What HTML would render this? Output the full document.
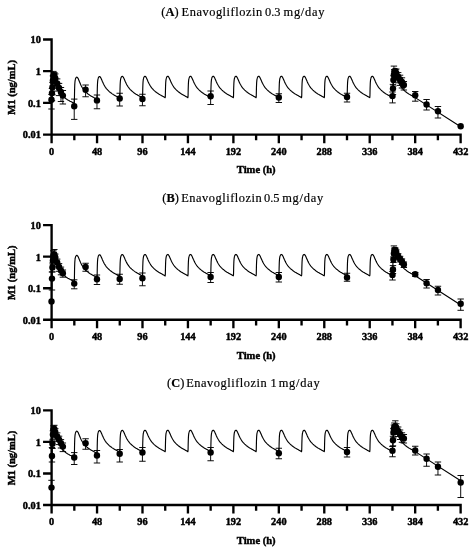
<!DOCTYPE html>
<html lang="en"><head><meta charset="utf-8"><title>Enavogliflozin M1 concentration-time profiles</title>
<style>html,body{margin:0;padding:0;background:#fff}body{width:476px;height:550px;overflow:hidden}svg{display:block}
.t{font-family:"Liberation Serif","DejaVu Serif",serif;font-size:12.4px;letter-spacing:0.55px;fill:#000;stroke:#000;stroke-width:0.18px}
.k{font-family:"Liberation Serif","DejaVu Serif",serif;font-weight:bold;font-size:10.3px;fill:#000;stroke:#000;stroke-width:0.45px}
.l{font-family:"Liberation Serif","DejaVu Serif",serif;font-weight:bold;font-size:10.55px;fill:#000;stroke:#000;stroke-width:0.45px}
.ax{stroke:#000;stroke-width:2.35;fill:none;stroke-linecap:butt}
.cv{stroke:#000;stroke-width:1.15;fill:none;stroke-linejoin:round}
.eb{stroke:#000;stroke-width:0.95;fill:none}
.pt{fill:#000}
</style></head><body>
<svg width="476" height="550" viewBox="0 0 476 550">
<rect width="476" height="550" fill="#fff"/>
<g id="chartA">
<text class="t" y="16"><tspan x="161.3" letter-spacing="0.03">(<tspan font-weight="bold">A</tspan>) </tspan><tspan x="181.6" letter-spacing="0.53">Enavogliflozin </tspan><tspan x="265" letter-spacing="-0.07">0.3 </tspan><tspan x="283.5" letter-spacing="0.77">mg/day</tspan></text>
<path class="ax" d="M51.6 38.3V143.17M43.05 134.57H461.79M43.05 39.47H51.6M43.05 71.17H51.6M43.05 102.87H51.6M74.32 134.57V140.27M97.05 134.57V143.17M119.77 134.57V140.27M142.49 134.57V143.17M165.22 134.57V140.27M187.94 134.57V143.17M210.66 134.57V140.27M233.39 134.57V143.17M256.11 134.57V140.27M278.83 134.57V143.17M301.56 134.57V140.27M324.28 134.57V143.17M347 134.57V140.27M369.72 134.57V143.17M392.45 134.57V140.27M415.17 134.57V143.17M437.89 134.57V140.27M460.62 134.57V143.17"/>
<text class="k" text-anchor="end" x="40.8" y="43.37">10</text>
<text class="k" text-anchor="end" x="40.8" y="75.07">1</text>
<text class="k" text-anchor="end" x="40.8" y="106.77">0.1</text>
<text class="k" text-anchor="end" x="40.8" y="138.47">0.01</text>
<text class="k" text-anchor="middle" x="51.6" y="154.57">0</text>
<text class="k" text-anchor="middle" x="97.05" y="154.57">48</text>
<text class="k" text-anchor="middle" x="142.49" y="154.57">96</text>
<text class="k" text-anchor="middle" x="187.94" y="154.57">144</text>
<text class="k" text-anchor="middle" x="233.39" y="154.57">192</text>
<text class="k" text-anchor="middle" x="278.83" y="154.57">240</text>
<text class="k" text-anchor="middle" x="324.28" y="154.57">288</text>
<text class="k" text-anchor="middle" x="369.72" y="154.57">336</text>
<text class="k" text-anchor="middle" x="415.17" y="154.57">384</text>
<text class="k" text-anchor="middle" x="460.62" y="154.57">432</text>
<text class="l" text-anchor="middle" transform="translate(256.21 173.07) scale(1 1.07)">Time (h)</text>
<text class="l" text-anchor="middle" transform="translate(15 87.32) rotate(-90) scale(1 1.07)">M1 (ng/mL)</text>
<path class="cv" d="M51.78 102.61L51.83 98.18L51.88 95.31L51.93 92.84L51.97 90.76L52.02 89.1L52.07 87.88L52.12 86.95L52.16 86.12L52.21 85.4L52.26 84.76L52.31 84.2L52.35 83.72L52.4 83.3L52.45 82.95L52.49 82.63L52.54 82.34L52.59 82.06L52.64 81.81L52.68 81.57L52.73 81.35L52.78 81.15L52.83 80.97L52.87 80.8L52.92 80.65L53.16 80.07L53.39 79.64L53.63 79.34L53.87 79.16L54.1 79.05L54.34 79.08L54.58 79.28L54.82 79.53L55.05 79.9L55.29 80.37L55.53 80.87L55.76 81.44L56 82.07L56.24 82.71L56.47 83.37L56.71 84.06L56.95 84.74L57.18 85.38L57.89 87.24L58.6 88.96L59.31 90.46L60.02 91.81L60.74 93.01L61.45 94.04L62.16 94.94L62.87 95.76L63.58 96.51L64.29 97.2L65 97.84L65.71 98.44L66.42 99L67.13 99.51L67.84 99.96L68.55 100.37L69.26 100.76L69.97 101.14L70.68 101.5L71.39 101.86L72.1 102.24L72.81 102.62L73.52 103.01L74.23 103.4L74.23 102.73L74.28 102.39L74.33 102.05L74.37 101.53L74.42 99.8L74.47 96.79L74.52 93.6L74.56 91.14L74.61 89.37L74.66 87.73L74.71 86.27L74.75 85.07L74.8 84.15L74.85 83.44L74.9 82.81L74.94 82.24L74.99 81.74L75.04 81.3L75.09 80.91L75.13 80.57L75.18 80.29L75.23 80.03L75.27 79.79L75.32 79.57L75.37 79.36L75.42 79.17L75.46 78.99L75.51 78.83L75.56 78.68L75.61 78.54L75.65 78.42L75.89 77.94L76.13 77.59L76.36 77.36L76.6 77.22L76.84 77.14L77.07 77.19L77.31 77.38L77.55 77.62L77.78 77.97L78.02 78.39L78.26 78.85L78.5 79.36L78.73 79.92L78.97 80.49L79.21 81.07L79.44 81.67L79.68 82.26L79.92 82.83L80.63 84.44L81.34 85.91L82.05 87.2L82.76 88.35L83.47 89.38L84.18 90.28L84.89 91.07L85.6 91.8L86.31 92.48L87.02 93.11L87.73 93.7L88.44 94.26L89.15 94.79L89.86 95.29L90.57 95.74L91.28 96.16L91.99 96.57L92.7 96.97L93.41 97.35L94.12 97.74L94.83 98.14L95.54 98.54L96.26 98.95L96.97 99.35L96.97 98.85L97.01 98.6L97.06 98.35L97.11 97.96L97.16 96.62L97.2 94.18L97.25 91.5L97.3 89.37L97.34 87.8L97.39 86.33L97.44 85.02L97.49 83.91L97.53 83.07L97.58 82.42L97.63 81.83L97.68 81.31L97.72 80.84L97.77 80.42L97.82 80.06L97.87 79.75L97.91 79.48L97.96 79.24L98.01 79.02L98.05 78.81L98.1 78.61L98.15 78.43L98.2 78.26L98.24 78.11L98.29 77.97L98.34 77.84L98.39 77.72L98.62 77.28L98.86 76.95L99.1 76.74L99.33 76.62L99.57 76.55L99.81 76.6L100.04 76.79L100.28 77.02L100.52 77.36L100.75 77.77L100.99 78.21L101.23 78.71L101.46 79.25L101.7 79.8L101.94 80.36L102.18 80.94L102.41 81.51L102.65 82.05L103.36 83.59L104.07 85.01L104.78 86.23L105.49 87.34L106.2 88.33L106.91 89.19L107.62 89.96L108.33 90.66L109.04 91.33L109.75 91.94L110.46 92.52L111.17 93.07L111.88 93.6L112.59 94.09L113.3 94.55L114.02 94.97L114.73 95.38L115.44 95.78L116.15 96.17L116.86 96.57L117.57 96.97L118.28 97.38L118.99 97.79L119.7 98.2L119.7 97.74L119.75 97.51L119.79 97.28L119.84 96.92L119.89 95.67L119.94 93.39L119.98 90.85L120.03 88.81L120.08 87.3L120.12 85.88L120.17 84.61L120.22 83.54L120.27 82.72L120.31 82.08L120.36 81.51L120.41 81L120.46 80.54L120.5 80.14L120.55 79.78L120.6 79.48L120.65 79.21L120.69 78.98L120.74 78.76L120.79 78.56L120.84 78.36L120.88 78.19L120.93 78.02L120.98 77.87L121.02 77.73L121.07 77.61L121.12 77.49L121.36 77.06L121.59 76.74L121.83 76.53L122.07 76.41L122.3 76.35L122.54 76.4L122.78 76.59L123.01 76.82L123.25 77.16L123.49 77.57L123.72 78L123.96 78.49L124.2 79.03L124.43 79.57L124.67 80.12L124.91 80.69L125.14 81.26L125.38 81.79L126.09 83.31L126.8 84.71L127.51 85.92L128.22 87.01L128.93 87.98L129.64 88.84L130.35 89.6L131.06 90.29L131.78 90.95L132.49 91.56L133.2 92.14L133.91 92.69L134.62 93.21L135.33 93.7L136.04 94.16L136.75 94.58L137.46 95L138.17 95.4L138.88 95.79L139.59 96.19L140.3 96.59L141.01 97L141.72 97.41L142.43 97.82L142.43 97.37L142.48 97.15L142.53 96.92L142.57 96.58L142.62 95.36L142.67 93.13L142.72 90.63L142.76 88.62L142.81 87.13L142.86 85.73L142.9 84.47L142.95 83.41L143 82.6L143.05 81.97L143.09 81.4L143.14 80.89L143.19 80.44L143.24 80.04L143.28 79.69L143.33 79.38L143.38 79.12L143.43 78.89L143.47 78.67L143.52 78.47L143.57 78.28L143.62 78.1L143.66 77.94L143.71 77.79L143.76 77.65L143.8 77.53L143.85 77.42L144.09 76.99L144.33 76.67L144.56 76.46L144.8 76.34L145.04 76.28L145.27 76.33L145.51 76.52L145.75 76.75L145.98 77.09L146.22 77.5L146.46 77.93L146.69 78.42L146.93 78.95L147.17 79.49L147.4 80.04L147.64 80.61L147.88 81.17L148.11 81.7L148.82 83.22L149.54 84.6L150.25 85.81L150.96 86.9L151.67 87.87L152.38 88.72L153.09 89.47L153.8 90.17L154.51 90.82L155.22 91.43L155.93 92.01L156.64 92.56L157.35 93.08L158.06 93.57L158.77 94.03L159.48 94.45L160.19 94.87L160.9 95.27L161.61 95.66L162.32 96.06L163.03 96.46L163.74 96.87L164.45 97.28L165.16 97.69L165.16 97.25L165.21 97.03L165.26 96.81L165.31 96.46L165.35 95.25L165.4 93.04L165.45 90.56L165.5 88.56L165.54 87.08L165.59 85.68L165.64 84.43L165.68 83.37L165.73 82.56L165.78 81.93L165.83 81.37L165.87 80.86L165.92 80.4L165.97 80L166.02 79.65L166.06 79.35L166.11 79.09L166.16 78.86L166.21 78.64L166.25 78.44L166.3 78.25L166.35 78.08L166.4 77.91L166.44 77.76L166.49 77.63L166.54 77.5L166.58 77.39L166.82 76.96L167.06 76.64L167.3 76.44L167.53 76.32L167.77 76.25L168.01 76.31L168.24 76.5L168.48 76.73L168.72 77.06L168.95 77.47L169.19 77.91L169.43 78.39L169.66 78.93L169.9 79.47L170.14 80.02L170.37 80.58L170.61 81.14L170.85 81.67L171.56 83.19L172.27 84.57L172.98 85.77L173.69 86.86L174.4 87.83L175.11 88.68L175.82 89.43L176.53 90.13L177.24 90.78L177.95 91.39L178.66 91.96L179.37 92.51L180.08 93.04L180.79 93.53L181.5 93.98L182.21 94.41L182.92 94.82L183.63 95.22L184.34 95.62L185.06 96.01L185.77 96.42L186.48 96.83L187.19 97.24L187.9 97.65L187.9 97.21L187.94 96.99L187.99 96.77L188.04 96.42L188.09 95.22L188.13 93.01L188.18 90.53L188.23 88.54L188.28 87.06L188.32 85.66L188.37 84.41L188.42 83.35L188.47 82.55L188.51 81.92L188.56 81.35L188.61 80.84L188.65 80.39L188.7 79.99L188.75 79.64L188.8 79.34L188.84 79.08L188.89 78.85L188.94 78.63L188.99 78.43L189.03 78.24L189.08 78.07L189.13 77.9L189.18 77.75L189.22 77.62L189.27 77.49L189.32 77.38L189.55 76.95L189.79 76.64L190.03 76.43L190.26 76.31L190.5 76.25L190.74 76.3L190.98 76.49L191.21 76.72L191.45 77.05L191.69 77.46L191.92 77.9L192.16 78.39L192.4 78.92L192.63 79.46L192.87 80.01L193.11 80.57L193.34 81.13L193.58 81.66L194.29 83.17L195 84.56L195.71 85.76L196.42 86.85L197.13 87.81L197.84 88.66L198.55 89.42L199.26 90.11L199.97 90.77L200.68 91.37L201.39 91.95L202.1 92.5L202.82 93.02L203.53 93.51L204.24 93.97L204.95 94.39L205.66 94.81L206.37 95.21L207.08 95.6L207.79 96L208.5 96.4L209.21 96.81L209.92 97.22L210.63 97.64L210.63 97.2L210.68 96.97L210.72 96.75L210.77 96.41L210.82 95.21L210.87 93L210.91 90.52L210.96 88.53L211.01 87.05L211.06 85.66L211.1 84.4L211.15 83.35L211.2 82.54L211.25 81.91L211.29 81.35L211.34 80.84L211.39 80.39L211.43 79.99L211.48 79.64L211.53 79.34L211.58 79.08L211.62 78.85L211.67 78.63L211.72 78.43L211.77 78.24L211.81 78.06L211.86 77.9L211.91 77.75L211.96 77.61L212 77.49L212.05 77.38L212.29 76.95L212.52 76.63L212.76 76.43L213 76.31L213.23 76.24L213.47 76.3L213.71 76.49L213.94 76.72L214.18 77.05L214.42 77.46L214.66 77.89L214.89 78.38L215.13 78.92L215.37 79.45L215.6 80L215.84 80.57L216.08 81.13L216.31 81.66L217.02 83.17L217.73 84.55L218.44 85.76L219.15 86.84L219.86 87.81L220.58 88.66L221.29 89.41L222 90.11L222.71 90.76L223.42 91.37L224.13 91.94L224.84 92.49L225.55 93.01L226.26 93.5L226.97 93.96L227.68 94.39L228.39 94.8L229.1 95.2L229.81 95.6L230.52 95.99L231.23 96.4L231.94 96.81L232.65 97.22L233.36 97.63L233.36 97.19L233.41 96.97L233.46 96.75L233.5 96.4L233.55 95.2L233.6 92.99L233.65 90.52L233.69 88.53L233.74 87.05L233.79 85.65L233.84 84.4L233.88 83.35L233.93 82.54L233.98 81.91L234.03 81.35L234.07 80.84L234.12 80.39L234.17 79.99L234.21 79.64L234.26 79.33L234.31 79.08L234.36 78.84L234.4 78.63L234.45 78.43L234.5 78.24L234.55 78.06L234.59 77.9L234.64 77.75L234.69 77.61L234.74 77.49L234.78 77.38L235.02 76.95L235.26 76.63L235.49 76.42L235.73 76.31L235.97 76.24L236.2 76.3L236.44 76.49L236.68 76.72L236.91 77.05L237.15 77.46L237.39 77.89L237.62 78.38L237.86 78.91L238.1 79.45L238.34 80L238.57 80.57L238.81 81.13L239.05 81.66L239.76 83.17L240.47 84.55L241.18 85.75L241.89 86.84L242.6 87.81L243.31 88.66L244.02 89.41L244.73 90.11L245.44 90.76L246.15 91.37L246.86 91.94L247.57 92.49L248.28 93.01L248.99 93.5L249.7 93.96L250.41 94.38L251.12 94.8L251.83 95.2L252.54 95.6L253.25 95.99L253.96 96.4L254.67 96.81L255.38 97.22L256.1 97.63L256.1 97.19L256.14 96.97L256.19 96.75L256.24 96.4L256.28 95.2L256.33 92.99L256.38 90.52L256.43 88.53L256.47 87.05L256.52 85.65L256.57 84.4L256.62 83.34L256.66 82.54L256.71 81.91L256.76 81.35L256.81 80.84L256.85 80.39L256.9 79.99L256.95 79.64L257 79.33L257.04 79.08L257.09 78.84L257.14 78.63L257.18 78.42L257.23 78.24L257.28 78.06L257.33 77.9L257.37 77.75L257.42 77.61L257.47 77.49L257.52 77.38L257.75 76.95L257.99 76.63L258.23 76.42L258.46 76.31L258.7 76.24L258.94 76.3L259.17 76.49L259.41 76.72L259.65 77.05L259.88 77.46L260.12 77.89L260.36 78.38L260.59 78.91L260.83 79.45L261.07 80L261.3 80.57L261.54 81.13L261.78 81.66L262.49 83.17L263.2 84.55L263.91 85.75L264.62 86.84L265.33 87.81L266.04 88.66L266.75 89.41L267.46 90.11L268.17 90.76L268.88 91.37L269.59 91.94L270.3 92.49L271.01 93.01L271.72 93.5L272.43 93.96L273.14 94.38L273.86 94.8L274.57 95.2L275.28 95.59L275.99 95.99L276.7 96.4L277.41 96.8L278.12 97.22L278.83 97.63L278.83 97.19L278.88 96.97L278.92 96.74L278.97 96.4L279.02 95.2L279.06 92.99L279.11 90.52L279.16 88.53L279.21 87.05L279.25 85.65L279.3 84.4L279.35 83.34L279.4 82.54L279.44 81.91L279.49 81.35L279.54 80.84L279.59 80.39L279.63 79.99L279.68 79.64L279.73 79.33L279.78 79.08L279.82 78.84L279.87 78.63L279.92 78.42L279.96 78.24L280.01 78.06L280.06 77.9L280.11 77.75L280.15 77.61L280.2 77.49L280.25 77.38L280.49 76.95L280.72 76.63L280.96 76.42L281.2 76.31L281.43 76.24L281.67 76.3L281.91 76.49L282.14 76.72L282.38 77.05L282.62 77.46L282.85 77.89L283.09 78.38L283.33 78.91L283.56 79.45L283.8 80L284.04 80.57L284.27 81.13L284.51 81.66L285.22 83.17L285.93 84.55L286.64 85.75L287.35 86.84L288.06 87.81L288.77 88.66L289.48 89.41L290.19 90.1L290.9 90.76L291.62 91.37L292.33 91.94L293.04 92.49L293.75 93.01L294.46 93.5L295.17 93.96L295.88 94.38L296.59 94.8L297.3 95.2L298.01 95.59L298.72 95.99L299.43 96.4L300.14 96.8L300.85 97.22L301.56 97.63L301.56 97.19L301.61 96.97L301.66 96.74L301.7 96.4L301.75 95.2L301.8 92.99L301.84 90.52L301.89 88.53L301.94 87.05L301.99 85.65L302.03 84.4L302.08 83.34L302.13 82.54L302.18 81.91L302.22 81.35L302.27 80.84L302.32 80.39L302.37 79.99L302.41 79.64L302.46 79.33L302.51 79.08L302.56 78.84L302.6 78.63L302.65 78.42L302.7 78.24L302.74 78.06L302.79 77.9L302.84 77.75L302.89 77.61L302.93 77.49L302.98 77.38L303.22 76.95L303.46 76.63L303.69 76.42L303.93 76.31L304.17 76.24L304.4 76.3L304.64 76.49L304.88 76.72L305.11 77.05L305.35 77.46L305.59 77.89L305.82 78.38L306.06 78.91L306.3 79.45L306.53 80L306.77 80.57L307.01 81.13L307.24 81.66L307.95 83.17L308.66 84.55L309.38 85.75L310.09 86.84L310.8 87.81L311.51 88.66L312.22 89.41L312.93 90.1L313.64 90.76L314.35 91.37L315.06 91.94L315.77 92.49L316.48 93.01L317.19 93.5L317.9 93.96L318.61 94.38L319.32 94.8L320.03 95.2L320.74 95.59L321.45 95.99L322.16 96.4L322.87 96.8L323.58 97.21L324.29 97.63L324.29 97.19L324.34 96.97L324.39 96.74L324.44 96.4L324.48 95.2L324.53 92.99L324.58 90.52L324.63 88.53L324.67 87.05L324.72 85.65L324.77 84.4L324.81 83.34L324.86 82.54L324.91 81.91L324.96 81.35L325 80.84L325.05 80.39L325.1 79.99L325.15 79.64L325.19 79.33L325.24 79.08L325.29 78.84L325.34 78.63L325.38 78.42L325.43 78.24L325.48 78.06L325.52 77.9L325.57 77.75L325.62 77.61L325.67 77.49L325.71 77.38L325.95 76.95L326.19 76.63L326.42 76.42L326.66 76.31L326.9 76.24L327.14 76.3L327.37 76.49L327.61 76.72L327.85 77.05L328.08 77.46L328.32 77.89L328.56 78.38L328.79 78.91L329.03 79.45L329.27 80L329.5 80.57L329.74 81.13L329.98 81.66L330.69 83.17L331.4 84.55L332.11 85.75L332.82 86.84L333.53 87.81L334.24 88.66L334.95 89.41L335.66 90.1L336.37 90.76L337.08 91.37L337.79 91.94L338.5 92.49L339.21 93.01L339.92 93.5L340.63 93.96L341.34 94.38L342.05 94.8L342.76 95.2L343.47 95.59L344.18 95.99L344.9 96.4L345.61 96.8L346.32 97.21L347.03 97.63L347.03 97.19L347.07 96.97L347.12 96.74L347.17 96.4L347.22 95.2L347.26 92.99L347.31 90.52L347.36 88.53L347.41 87.05L347.45 85.65L347.5 84.4L347.55 83.34L347.59 82.54L347.64 81.91L347.69 81.35L347.74 80.84L347.78 80.39L347.83 79.99L347.88 79.64L347.93 79.33L347.97 79.08L348.02 78.84L348.07 78.63L348.12 78.42L348.16 78.24L348.21 78.06L348.26 77.9L348.31 77.75L348.35 77.61L348.4 77.49L348.45 77.38L348.68 76.95L348.92 76.63L349.16 76.42L349.39 76.31L349.63 76.24L349.87 76.3L350.1 76.49L350.34 76.72L350.58 77.05L350.82 77.46L351.05 77.89L351.29 78.38L351.53 78.91L351.76 79.45L352 80L352.24 80.57L352.47 81.13L352.71 81.66L353.42 83.17L354.13 84.55L354.84 85.75L355.55 86.84L356.26 87.81L356.97 88.66L357.68 89.41L358.39 90.1L359.1 90.76L359.81 91.37L360.52 91.94L361.23 92.49L361.94 93.01L362.66 93.5L363.37 93.96L364.08 94.38L364.79 94.8L365.5 95.2L366.21 95.59L366.92 95.99L367.63 96.4L368.34 96.8L369.05 97.21L369.76 97.63L369.76 97.19L369.81 96.97L369.85 96.74L369.9 96.4L369.95 95.2L370 92.99L370.04 90.52L370.09 88.53L370.14 87.05L370.19 85.65L370.23 84.4L370.28 83.34L370.33 82.54L370.37 81.91L370.42 81.35L370.47 80.84L370.52 80.39L370.56 79.99L370.61 79.64L370.66 79.33L370.71 79.08L370.75 78.84L370.8 78.63L370.85 78.42L370.9 78.24L370.94 78.06L370.99 77.9L371.04 77.75L371.09 77.61L371.13 77.49L371.18 77.38L371.42 76.95L371.65 76.63L371.89 76.42L372.13 76.31L372.36 76.24L372.6 76.3L372.84 76.49L373.07 76.72L373.31 77.05L373.55 77.46L373.78 77.89L374.02 78.38L374.26 78.91L374.5 79.45L374.73 80L374.97 80.57L375.21 81.13L375.44 81.66L376.15 83.17L376.86 84.55L377.57 85.75L378.28 86.84L378.99 87.81L379.7 88.66L380.42 89.41L381.13 90.1L381.84 90.76L382.55 91.37L383.26 91.94L383.97 92.49L384.68 93.01L385.39 93.5L386.1 93.96L386.81 94.38L387.52 94.8L388.23 95.2L388.94 95.59L389.65 95.99L390.36 96.4L391.07 96.8L391.78 97.21L392.49 97.63L392.49 97.19L392.54 96.97L392.59 96.74L392.63 96.4L392.68 95.2L392.73 92.99L392.78 90.52L392.82 88.53L392.87 87.05L392.92 85.65L392.97 84.4L393.01 83.34L393.06 82.54L393.11 81.91L393.16 81.35L393.2 80.84L393.25 80.39L393.3 79.99L393.34 79.64L393.39 79.33L393.44 79.08L393.49 78.84L393.53 78.63L393.58 78.42L393.63 78.24L393.68 78.06L393.72 77.9L393.77 77.75L393.82 77.61L393.87 77.49L393.91 77.38L394.15 76.95L394.39 76.63L394.62 76.42L394.86 76.31L395.1 76.24L395.33 76.3L395.57 76.49L395.81 76.72L396.04 77.05L396.28 77.46L396.52 77.89L396.75 78.38L396.99 78.91L397.23 79.45L397.46 80L397.7 80.57L397.94 81.13L398.18 81.66L398.89 83.17L399.6 84.55L400.31 85.75L401.02 86.84L401.73 87.81L402.44 88.66L403.15 89.41L403.86 90.1L404.57 90.76L405.28 91.37L405.99 91.94L406.7 92.49L407.41 93.01L408.12 93.5L408.83 93.96L409.54 94.38L410.25 94.8L410.96 95.2L411.67 95.59L412.38 95.99L413.09 96.4L413.8 96.8L414.51 97.21L415.22 97.63L460.69 126.81"/>
<path class="eb" d="M51.5 94.5V109M48.3 94.5H54.7M48.3 109H54.7M51.97 88.5V100.7M48.77 88.5H55.17M48.77 100.7H55.17M52.45 82.6V94.8M49.25 82.6H55.65M49.25 94.8H55.65M52.92 75.9V88.1M49.72 75.9H56.12M49.72 88.1H56.12M53.39 71.4V83.6M50.19 71.4H56.59M50.19 83.6H56.59M54.34 72.6V80M51.14 72.6H57.54M51.14 80H57.54M55.29 73.9V86.1M52.09 73.9H58.49M52.09 86.1H58.49M57.18 78.9V91.1M53.98 78.9H60.38M53.98 91.1H60.38M59.08 83.4V95.6M55.88 83.4H62.28M55.88 95.6H62.28M60.97 87.5V101.5M57.77 87.5H64.17M57.77 101.5H64.17M62.87 90.5V104M59.67 90.5H66.07M59.67 104H66.07M74.23 99.1V119.4M71.03 99.1H77.43M71.03 119.4H77.43M85.6 85V96.75M82.4 85H88.8M82.4 96.75H88.8M96.97 95V108.75M93.77 95H100.17M93.77 108.75H100.17M119.7 93.25V106M116.5 93.25H122.9M116.5 106H122.9M142.43 94.25V105.75M139.23 94.25H145.63M139.23 105.75H145.63M210.63 91V104.5M207.43 91H213.83M207.43 104.5H213.83M278.83 93.75V102.5M275.63 93.75H282.03M275.63 102.5H282.03M347.03 93.25V102M343.83 93.25H350.23M343.83 102H350.23M392.49 92V102.9M389.29 92H395.69M389.29 102.9H395.69M392.97 84.4V94.6M389.77 84.4H396.17M389.77 94.6H396.17M393.44 75.8V86M390.24 75.8H396.64M390.24 86H396.64M393.91 66.1V80M390.71 66.1H397.11M390.71 80H397.11M394.39 69.5V77M391.19 69.5H397.59M391.19 77H397.59M395.33 69.5V77M392.13 69.5H398.53M392.13 77H398.53M396.28 69V79.2M393.08 69H399.48M393.08 79.2H399.48M398.18 72.6V82.8M394.98 72.6H401.38M394.98 82.8H401.38M400.07 75.2V85.4M396.87 75.2H403.27M396.87 85.4H403.27M401.96 77.8V88M398.76 77.8H405.16M398.76 88H405.16M403.86 81.5V90M400.66 81.5H407.06M400.66 90H407.06M415.22 91.5V101.2M412.02 91.5H418.42M412.02 101.2H418.42M426.59 99.5V110M423.39 99.5H429.79M423.39 110H429.79M437.96 106.5V118M434.76 106.5H441.16M434.76 118H441.16"/>
<circle class="pt" cx="51.5" cy="99.8" r="3.2"/>
<circle class="pt" cx="51.97" cy="93.1" r="3.2"/>
<circle class="pt" cx="52.45" cy="87.2" r="3.2"/>
<circle class="pt" cx="52.92" cy="80.5" r="3.2"/>
<circle class="pt" cx="53.39" cy="76" r="3.2"/>
<circle class="pt" cx="54.34" cy="75.5" r="3.2"/>
<circle class="pt" cx="55.29" cy="78.5" r="3.2"/>
<circle class="pt" cx="57.18" cy="83.5" r="3.2"/>
<circle class="pt" cx="59.08" cy="88" r="3.2"/>
<circle class="pt" cx="60.97" cy="92" r="3.2"/>
<circle class="pt" cx="62.87" cy="95.6" r="3.2"/>
<circle class="pt" cx="74.23" cy="106.3" r="3.2"/>
<circle class="pt" cx="85.6" cy="89.75" r="3.2"/>
<circle class="pt" cx="96.97" cy="100.4" r="3.2"/>
<circle class="pt" cx="119.7" cy="98.5" r="3.2"/>
<circle class="pt" cx="142.43" cy="99" r="3.2"/>
<circle class="pt" cx="210.63" cy="96.25" r="3.2"/>
<circle class="pt" cx="278.83" cy="97.5" r="3.2"/>
<circle class="pt" cx="347.03" cy="97" r="3.2"/>
<circle class="pt" cx="392.49" cy="96.1" r="3.2"/>
<circle class="pt" cx="392.97" cy="88.6" r="3.2"/>
<circle class="pt" cx="393.44" cy="80" r="3.2"/>
<circle class="pt" cx="393.91" cy="74.8" r="3.2"/>
<circle class="pt" cx="394.39" cy="71.3" r="3.2"/>
<circle class="pt" cx="395.33" cy="71" r="3.2"/>
<circle class="pt" cx="396.28" cy="73.2" r="3.2"/>
<circle class="pt" cx="398.18" cy="76.8" r="3.2"/>
<circle class="pt" cx="400.07" cy="79.4" r="3.2"/>
<circle class="pt" cx="401.96" cy="82" r="3.2"/>
<circle class="pt" cx="403.86" cy="85" r="3.2"/>
<circle class="pt" cx="415.22" cy="95.3" r="3.2"/>
<circle class="pt" cx="426.59" cy="104.5" r="3.2"/>
<circle class="pt" cx="437.96" cy="111.25" r="3.2"/>
<circle class="pt" cx="460.69" cy="126.25" r="3.2"/>
</g>
<g id="chartB">
<text class="t" y="201.55"><tspan x="162.3" letter-spacing="0.03">(<tspan font-weight="bold">B</tspan>) </tspan><tspan x="181.2" letter-spacing="0.53">Enavogliflozin </tspan><tspan x="264" letter-spacing="-0.07">0.5 </tspan><tspan x="282.2" letter-spacing="0.77">mg/day</tspan></text>
<path class="ax" d="M51.6 223.89V328.37M43.05 319.77H461.79M43.05 225.07H51.6M43.05 256.64H51.6M43.05 288.2H51.6M74.32 319.77V325.47M97.05 319.77V328.37M119.77 319.77V325.47M142.49 319.77V328.37M165.22 319.77V325.47M187.94 319.77V328.37M210.66 319.77V325.47M233.39 319.77V328.37M256.11 319.77V325.47M278.83 319.77V328.37M301.56 319.77V325.47M324.28 319.77V328.37M347 319.77V325.47M369.72 319.77V328.37M392.45 319.77V325.47M415.17 319.77V328.37M437.89 319.77V325.47M460.62 319.77V328.37"/>
<text class="k" text-anchor="end" x="40.8" y="228.97">10</text>
<text class="k" text-anchor="end" x="40.8" y="260.54">1</text>
<text class="k" text-anchor="end" x="40.8" y="292.1">0.1</text>
<text class="k" text-anchor="end" x="40.8" y="323.67">0.01</text>
<text class="k" text-anchor="middle" x="51.6" y="339.77">0</text>
<text class="k" text-anchor="middle" x="97.05" y="339.77">48</text>
<text class="k" text-anchor="middle" x="142.49" y="339.77">96</text>
<text class="k" text-anchor="middle" x="187.94" y="339.77">144</text>
<text class="k" text-anchor="middle" x="233.39" y="339.77">192</text>
<text class="k" text-anchor="middle" x="278.83" y="339.77">240</text>
<text class="k" text-anchor="middle" x="324.28" y="339.77">288</text>
<text class="k" text-anchor="middle" x="369.72" y="339.77">336</text>
<text class="k" text-anchor="middle" x="415.17" y="339.77">384</text>
<text class="k" text-anchor="middle" x="460.62" y="339.77">432</text>
<text class="l" text-anchor="middle" transform="translate(256.21 359.07) scale(1 1.07)">Time (h)</text>
<text class="l" text-anchor="middle" transform="translate(15 272.72) rotate(-90) scale(1 1.07)">M1 (ng/mL)</text>
<path class="cv" d="M51.78 280.81L51.83 276.38L51.88 273.51L51.93 271.04L51.97 268.96L52.02 267.3L52.07 266.08L52.12 265.15L52.16 264.32L52.21 263.6L52.26 262.96L52.31 262.4L52.35 261.92L52.4 261.5L52.45 261.15L52.49 260.83L52.54 260.54L52.59 260.26L52.64 260.01L52.68 259.77L52.73 259.55L52.78 259.35L52.83 259.17L52.87 259L52.92 258.85L53.16 258.27L53.39 257.84L53.63 257.54L53.87 257.36L54.1 257.25L54.34 257.28L54.58 257.48L54.82 257.73L55.05 258.1L55.29 258.57L55.53 259.07L55.76 259.64L56 260.27L56.24 260.91L56.47 261.57L56.71 262.26L56.95 262.94L57.18 263.58L57.89 265.44L58.6 267.16L59.31 268.66L60.02 270.01L60.74 271.21L61.45 272.24L62.16 273.14L62.87 273.96L63.58 274.71L64.29 275.4L65 276.04L65.71 276.64L66.42 277.2L67.13 277.71L67.84 278.16L68.55 278.57L69.26 278.96L69.97 279.34L70.68 279.7L71.39 280.06L72.1 280.44L72.81 280.82L73.52 281.21L74.23 281.6L74.23 280.93L74.28 280.59L74.33 280.25L74.37 279.73L74.42 278L74.47 274.99L74.52 271.8L74.56 269.34L74.61 267.57L74.66 265.93L74.71 264.47L74.75 263.27L74.8 262.35L74.85 261.64L74.9 261.01L74.94 260.44L74.99 259.94L75.04 259.5L75.09 259.11L75.13 258.77L75.18 258.49L75.23 258.23L75.27 257.99L75.32 257.77L75.37 257.56L75.42 257.37L75.46 257.19L75.51 257.03L75.56 256.88L75.61 256.74L75.65 256.62L75.89 256.14L76.13 255.79L76.36 255.56L76.6 255.42L76.84 255.34L77.07 255.39L77.31 255.58L77.55 255.82L77.78 256.17L78.02 256.59L78.26 257.05L78.5 257.56L78.73 258.12L78.97 258.69L79.21 259.27L79.44 259.87L79.68 260.46L79.92 261.03L80.63 262.64L81.34 264.11L82.05 265.4L82.76 266.55L83.47 267.58L84.18 268.48L84.89 269.27L85.6 270L86.31 270.68L87.02 271.31L87.73 271.9L88.44 272.46L89.15 272.99L89.86 273.49L90.57 273.94L91.28 274.36L91.99 274.77L92.7 275.17L93.41 275.55L94.12 275.94L94.83 276.34L95.54 276.74L96.26 277.15L96.97 277.55L96.97 277.05L97.01 276.8L97.06 276.55L97.11 276.16L97.16 274.82L97.2 272.38L97.25 269.7L97.3 267.57L97.34 266L97.39 264.53L97.44 263.22L97.49 262.11L97.53 261.27L97.58 260.62L97.63 260.03L97.68 259.51L97.72 259.04L97.77 258.62L97.82 258.26L97.87 257.95L97.91 257.68L97.96 257.44L98.01 257.22L98.05 257.01L98.1 256.81L98.15 256.63L98.2 256.46L98.24 256.31L98.29 256.17L98.34 256.04L98.39 255.92L98.62 255.48L98.86 255.15L99.1 254.94L99.33 254.82L99.57 254.75L99.81 254.8L100.04 254.99L100.28 255.22L100.52 255.56L100.75 255.97L100.99 256.41L101.23 256.91L101.46 257.45L101.7 258L101.94 258.56L102.18 259.14L102.41 259.71L102.65 260.25L103.36 261.79L104.07 263.21L104.78 264.43L105.49 265.54L106.2 266.53L106.91 267.39L107.62 268.16L108.33 268.86L109.04 269.53L109.75 270.14L110.46 270.72L111.17 271.27L111.88 271.8L112.59 272.29L113.3 272.75L114.02 273.17L114.73 273.58L115.44 273.98L116.15 274.37L116.86 274.77L117.57 275.17L118.28 275.58L118.99 275.99L119.7 276.4L119.7 275.94L119.75 275.71L119.79 275.48L119.84 275.12L119.89 273.87L119.94 271.59L119.98 269.05L120.03 267.01L120.08 265.5L120.12 264.08L120.17 262.81L120.22 261.74L120.27 260.92L120.31 260.28L120.36 259.71L120.41 259.2L120.46 258.74L120.5 258.34L120.55 257.98L120.6 257.68L120.65 257.41L120.69 257.18L120.74 256.96L120.79 256.76L120.84 256.56L120.88 256.39L120.93 256.22L120.98 256.07L121.02 255.93L121.07 255.81L121.12 255.69L121.36 255.26L121.59 254.94L121.83 254.73L122.07 254.61L122.3 254.55L122.54 254.6L122.78 254.79L123.01 255.02L123.25 255.36L123.49 255.77L123.72 256.2L123.96 256.69L124.2 257.23L124.43 257.77L124.67 258.32L124.91 258.89L125.14 259.46L125.38 259.99L126.09 261.51L126.8 262.91L127.51 264.12L128.22 265.21L128.93 266.18L129.64 267.04L130.35 267.8L131.06 268.49L131.78 269.15L132.49 269.76L133.2 270.34L133.91 270.89L134.62 271.41L135.33 271.9L136.04 272.36L136.75 272.78L137.46 273.2L138.17 273.6L138.88 273.99L139.59 274.39L140.3 274.79L141.01 275.2L141.72 275.61L142.43 276.02L142.43 275.57L142.48 275.35L142.53 275.12L142.57 274.78L142.62 273.56L142.67 271.33L142.72 268.83L142.76 266.82L142.81 265.33L142.86 263.93L142.9 262.67L142.95 261.61L143 260.8L143.05 260.17L143.09 259.6L143.14 259.09L143.19 258.64L143.24 258.24L143.28 257.89L143.33 257.58L143.38 257.32L143.43 257.09L143.47 256.87L143.52 256.67L143.57 256.48L143.62 256.3L143.66 256.14L143.71 255.99L143.76 255.85L143.8 255.73L143.85 255.62L144.09 255.19L144.33 254.87L144.56 254.66L144.8 254.54L145.04 254.48L145.27 254.53L145.51 254.72L145.75 254.95L145.98 255.29L146.22 255.7L146.46 256.13L146.69 256.62L146.93 257.15L147.17 257.69L147.4 258.24L147.64 258.81L147.88 259.37L148.11 259.9L148.82 261.42L149.54 262.8L150.25 264.01L150.96 265.1L151.67 266.07L152.38 266.92L153.09 267.67L153.8 268.37L154.51 269.02L155.22 269.63L155.93 270.21L156.64 270.76L157.35 271.28L158.06 271.77L158.77 272.23L159.48 272.65L160.19 273.07L160.9 273.47L161.61 273.86L162.32 274.26L163.03 274.66L163.74 275.07L164.45 275.48L165.16 275.89L165.16 275.45L165.21 275.23L165.26 275.01L165.31 274.66L165.35 273.45L165.4 271.24L165.45 268.76L165.5 266.76L165.54 265.28L165.59 263.88L165.64 262.63L165.68 261.57L165.73 260.76L165.78 260.13L165.83 259.57L165.87 259.06L165.92 258.6L165.97 258.2L166.02 257.85L166.06 257.55L166.11 257.29L166.16 257.06L166.21 256.84L166.25 256.64L166.3 256.45L166.35 256.28L166.4 256.11L166.44 255.96L166.49 255.83L166.54 255.7L166.58 255.59L166.82 255.16L167.06 254.84L167.3 254.64L167.53 254.52L167.77 254.45L168.01 254.51L168.24 254.7L168.48 254.93L168.72 255.26L168.95 255.67L169.19 256.11L169.43 256.59L169.66 257.13L169.9 257.67L170.14 258.22L170.37 258.78L170.61 259.34L170.85 259.87L171.56 261.39L172.27 262.77L172.98 263.97L173.69 265.06L174.4 266.03L175.11 266.88L175.82 267.63L176.53 268.33L177.24 268.98L177.95 269.59L178.66 270.16L179.37 270.71L180.08 271.24L180.79 271.73L181.5 272.18L182.21 272.61L182.92 273.02L183.63 273.42L184.34 273.82L185.06 274.21L185.77 274.62L186.48 275.03L187.19 275.44L187.9 275.85L187.9 275.41L187.94 275.19L187.99 274.97L188.04 274.62L188.09 273.42L188.13 271.21L188.18 268.73L188.23 266.74L188.28 265.26L188.32 263.86L188.37 262.61L188.42 261.55L188.47 260.75L188.51 260.12L188.56 259.55L188.61 259.04L188.65 258.59L188.7 258.19L188.75 257.84L188.8 257.54L188.84 257.28L188.89 257.05L188.94 256.83L188.99 256.63L189.03 256.44L189.08 256.27L189.13 256.1L189.18 255.95L189.22 255.82L189.27 255.69L189.32 255.58L189.55 255.15L189.79 254.84L190.03 254.63L190.26 254.51L190.5 254.45L190.74 254.5L190.98 254.69L191.21 254.92L191.45 255.25L191.69 255.66L191.92 256.1L192.16 256.59L192.4 257.12L192.63 257.66L192.87 258.21L193.11 258.77L193.34 259.33L193.58 259.86L194.29 261.37L195 262.76L195.71 263.96L196.42 265.05L197.13 266.01L197.84 266.86L198.55 267.62L199.26 268.31L199.97 268.97L200.68 269.57L201.39 270.15L202.1 270.7L202.82 271.22L203.53 271.71L204.24 272.17L204.95 272.59L205.66 273.01L206.37 273.41L207.08 273.8L207.79 274.2L208.5 274.6L209.21 275.01L209.92 275.42L210.63 275.84L210.63 275.4L210.68 275.17L210.72 274.95L210.77 274.61L210.82 273.41L210.87 271.2L210.91 268.72L210.96 266.73L211.01 265.25L211.06 263.86L211.1 262.6L211.15 261.55L211.2 260.74L211.25 260.11L211.29 259.55L211.34 259.04L211.39 258.59L211.43 258.19L211.48 257.84L211.53 257.54L211.58 257.28L211.62 257.05L211.67 256.83L211.72 256.63L211.77 256.44L211.81 256.26L211.86 256.1L211.91 255.95L211.96 255.81L212 255.69L212.05 255.58L212.29 255.15L212.52 254.83L212.76 254.63L213 254.51L213.23 254.44L213.47 254.5L213.71 254.69L213.94 254.92L214.18 255.25L214.42 255.66L214.66 256.09L214.89 256.58L215.13 257.12L215.37 257.65L215.6 258.2L215.84 258.77L216.08 259.33L216.31 259.86L217.02 261.37L217.73 262.75L218.44 263.96L219.15 265.04L219.86 266.01L220.58 266.86L221.29 267.61L222 268.31L222.71 268.96L223.42 269.57L224.13 270.14L224.84 270.69L225.55 271.21L226.26 271.7L226.97 272.16L227.68 272.59L228.39 273L229.1 273.4L229.81 273.8L230.52 274.19L231.23 274.6L231.94 275.01L232.65 275.42L233.36 275.83L233.36 275.39L233.41 275.17L233.46 274.95L233.5 274.6L233.55 273.4L233.6 271.19L233.65 268.72L233.69 266.73L233.74 265.25L233.79 263.85L233.84 262.6L233.88 261.55L233.93 260.74L233.98 260.11L234.03 259.55L234.07 259.04L234.12 258.59L234.17 258.19L234.21 257.84L234.26 257.53L234.31 257.28L234.36 257.04L234.4 256.83L234.45 256.63L234.5 256.44L234.55 256.26L234.59 256.1L234.64 255.95L234.69 255.81L234.74 255.69L234.78 255.58L235.02 255.15L235.26 254.83L235.49 254.62L235.73 254.51L235.97 254.44L236.2 254.5L236.44 254.69L236.68 254.92L236.91 255.25L237.15 255.66L237.39 256.09L237.62 256.58L237.86 257.11L238.1 257.65L238.34 258.2L238.57 258.77L238.81 259.33L239.05 259.86L239.76 261.37L240.47 262.75L241.18 263.95L241.89 265.04L242.6 266.01L243.31 266.86L244.02 267.61L244.73 268.31L245.44 268.96L246.15 269.57L246.86 270.14L247.57 270.69L248.28 271.21L248.99 271.7L249.7 272.16L250.41 272.58L251.12 273L251.83 273.4L252.54 273.8L253.25 274.19L253.96 274.6L254.67 275.01L255.38 275.42L256.1 275.83L256.1 275.39L256.14 275.17L256.19 274.95L256.24 274.6L256.28 273.4L256.33 271.19L256.38 268.72L256.43 266.73L256.47 265.25L256.52 263.85L256.57 262.6L256.62 261.54L256.66 260.74L256.71 260.11L256.76 259.55L256.81 259.04L256.85 258.59L256.9 258.19L256.95 257.84L257 257.53L257.04 257.28L257.09 257.04L257.14 256.83L257.18 256.62L257.23 256.44L257.28 256.26L257.33 256.1L257.37 255.95L257.42 255.81L257.47 255.69L257.52 255.58L257.75 255.15L257.99 254.83L258.23 254.62L258.46 254.51L258.7 254.44L258.94 254.5L259.17 254.69L259.41 254.92L259.65 255.25L259.88 255.66L260.12 256.09L260.36 256.58L260.59 257.11L260.83 257.65L261.07 258.2L261.3 258.77L261.54 259.33L261.78 259.86L262.49 261.37L263.2 262.75L263.91 263.95L264.62 265.04L265.33 266.01L266.04 266.86L266.75 267.61L267.46 268.31L268.17 268.96L268.88 269.57L269.59 270.14L270.3 270.69L271.01 271.21L271.72 271.7L272.43 272.16L273.14 272.58L273.86 273L274.57 273.4L275.28 273.79L275.99 274.19L276.7 274.6L277.41 275L278.12 275.42L278.83 275.83L278.83 275.39L278.88 275.17L278.92 274.94L278.97 274.6L279.02 273.4L279.06 271.19L279.11 268.72L279.16 266.73L279.21 265.25L279.25 263.85L279.3 262.6L279.35 261.54L279.4 260.74L279.44 260.11L279.49 259.55L279.54 259.04L279.59 258.59L279.63 258.19L279.68 257.84L279.73 257.53L279.78 257.28L279.82 257.04L279.87 256.83L279.92 256.62L279.96 256.44L280.01 256.26L280.06 256.1L280.11 255.95L280.15 255.81L280.2 255.69L280.25 255.58L280.49 255.15L280.72 254.83L280.96 254.62L281.2 254.51L281.43 254.44L281.67 254.5L281.91 254.69L282.14 254.92L282.38 255.25L282.62 255.66L282.85 256.09L283.09 256.58L283.33 257.11L283.56 257.65L283.8 258.2L284.04 258.77L284.27 259.33L284.51 259.86L285.22 261.37L285.93 262.75L286.64 263.95L287.35 265.04L288.06 266.01L288.77 266.86L289.48 267.61L290.19 268.3L290.9 268.96L291.62 269.57L292.33 270.14L293.04 270.69L293.75 271.21L294.46 271.7L295.17 272.16L295.88 272.58L296.59 273L297.3 273.4L298.01 273.79L298.72 274.19L299.43 274.6L300.14 275L300.85 275.42L301.56 275.83L301.56 275.39L301.61 275.17L301.66 274.94L301.7 274.6L301.75 273.4L301.8 271.19L301.84 268.72L301.89 266.73L301.94 265.25L301.99 263.85L302.03 262.6L302.08 261.54L302.13 260.74L302.18 260.11L302.22 259.55L302.27 259.04L302.32 258.59L302.37 258.19L302.41 257.84L302.46 257.53L302.51 257.28L302.56 257.04L302.6 256.83L302.65 256.62L302.7 256.44L302.74 256.26L302.79 256.1L302.84 255.95L302.89 255.81L302.93 255.69L302.98 255.58L303.22 255.15L303.46 254.83L303.69 254.62L303.93 254.51L304.17 254.44L304.4 254.5L304.64 254.69L304.88 254.92L305.11 255.25L305.35 255.66L305.59 256.09L305.82 256.58L306.06 257.11L306.3 257.65L306.53 258.2L306.77 258.77L307.01 259.33L307.24 259.86L307.95 261.37L308.66 262.75L309.38 263.95L310.09 265.04L310.8 266.01L311.51 266.86L312.22 267.61L312.93 268.3L313.64 268.96L314.35 269.57L315.06 270.14L315.77 270.69L316.48 271.21L317.19 271.7L317.9 272.16L318.61 272.58L319.32 273L320.03 273.4L320.74 273.79L321.45 274.19L322.16 274.6L322.87 275L323.58 275.41L324.29 275.83L324.29 275.39L324.34 275.17L324.39 274.94L324.44 274.6L324.48 273.4L324.53 271.19L324.58 268.72L324.63 266.73L324.67 265.25L324.72 263.85L324.77 262.6L324.81 261.54L324.86 260.74L324.91 260.11L324.96 259.55L325 259.04L325.05 258.59L325.1 258.19L325.15 257.84L325.19 257.53L325.24 257.28L325.29 257.04L325.34 256.83L325.38 256.62L325.43 256.44L325.48 256.26L325.52 256.1L325.57 255.95L325.62 255.81L325.67 255.69L325.71 255.58L325.95 255.15L326.19 254.83L326.42 254.62L326.66 254.51L326.9 254.44L327.14 254.5L327.37 254.69L327.61 254.92L327.85 255.25L328.08 255.66L328.32 256.09L328.56 256.58L328.79 257.11L329.03 257.65L329.27 258.2L329.5 258.77L329.74 259.33L329.98 259.86L330.69 261.37L331.4 262.75L332.11 263.95L332.82 265.04L333.53 266.01L334.24 266.86L334.95 267.61L335.66 268.3L336.37 268.96L337.08 269.57L337.79 270.14L338.5 270.69L339.21 271.21L339.92 271.7L340.63 272.16L341.34 272.58L342.05 273L342.76 273.4L343.47 273.79L344.18 274.19L344.9 274.6L345.61 275L346.32 275.41L347.03 275.83L347.03 275.39L347.07 275.17L347.12 274.94L347.17 274.6L347.22 273.4L347.26 271.19L347.31 268.72L347.36 266.73L347.41 265.25L347.45 263.85L347.5 262.6L347.55 261.54L347.59 260.74L347.64 260.11L347.69 259.55L347.74 259.04L347.78 258.59L347.83 258.19L347.88 257.84L347.93 257.53L347.97 257.28L348.02 257.04L348.07 256.83L348.12 256.62L348.16 256.44L348.21 256.26L348.26 256.1L348.31 255.95L348.35 255.81L348.4 255.69L348.45 255.58L348.68 255.15L348.92 254.83L349.16 254.62L349.39 254.51L349.63 254.44L349.87 254.5L350.1 254.69L350.34 254.92L350.58 255.25L350.82 255.66L351.05 256.09L351.29 256.58L351.53 257.11L351.76 257.65L352 258.2L352.24 258.77L352.47 259.33L352.71 259.86L353.42 261.37L354.13 262.75L354.84 263.95L355.55 265.04L356.26 266.01L356.97 266.86L357.68 267.61L358.39 268.3L359.1 268.96L359.81 269.57L360.52 270.14L361.23 270.69L361.94 271.21L362.66 271.7L363.37 272.16L364.08 272.58L364.79 273L365.5 273.4L366.21 273.79L366.92 274.19L367.63 274.6L368.34 275L369.05 275.41L369.76 275.83L369.76 275.39L369.81 275.17L369.85 274.94L369.9 274.6L369.95 273.4L370 271.19L370.04 268.72L370.09 266.73L370.14 265.25L370.19 263.85L370.23 262.6L370.28 261.54L370.33 260.74L370.37 260.11L370.42 259.55L370.47 259.04L370.52 258.59L370.56 258.19L370.61 257.84L370.66 257.53L370.71 257.28L370.75 257.04L370.8 256.83L370.85 256.62L370.9 256.44L370.94 256.26L370.99 256.1L371.04 255.95L371.09 255.81L371.13 255.69L371.18 255.58L371.42 255.15L371.65 254.83L371.89 254.62L372.13 254.51L372.36 254.44L372.6 254.5L372.84 254.69L373.07 254.92L373.31 255.25L373.55 255.66L373.78 256.09L374.02 256.58L374.26 257.11L374.5 257.65L374.73 258.2L374.97 258.77L375.21 259.33L375.44 259.86L376.15 261.37L376.86 262.75L377.57 263.95L378.28 265.04L378.99 266.01L379.7 266.86L380.42 267.61L381.13 268.3L381.84 268.96L382.55 269.57L383.26 270.14L383.97 270.69L384.68 271.21L385.39 271.7L386.1 272.16L386.81 272.58L387.52 273L388.23 273.4L388.94 273.79L389.65 274.19L390.36 274.6L391.07 275L391.78 275.41L392.49 275.83L392.49 275.39L392.54 275.17L392.59 274.94L392.63 274.6L392.68 273.4L392.73 271.19L392.78 268.72L392.82 266.73L392.87 265.25L392.92 263.85L392.97 262.6L393.01 261.54L393.06 260.74L393.11 260.11L393.16 259.55L393.2 259.04L393.25 258.59L393.3 258.19L393.34 257.84L393.39 257.53L393.44 257.28L393.49 257.04L393.53 256.83L393.58 256.62L393.63 256.44L393.68 256.26L393.72 256.1L393.77 255.95L393.82 255.81L393.87 255.69L393.91 255.58L394.15 255.15L394.39 254.83L394.62 254.62L394.86 254.51L395.1 254.44L395.33 254.5L395.57 254.69L395.81 254.92L396.04 255.25L396.28 255.66L396.52 256.09L396.75 256.58L396.99 257.11L397.23 257.65L397.46 258.2L397.7 258.77L397.94 259.33L398.18 259.86L398.89 261.37L399.6 262.75L400.31 263.95L401.02 265.04L401.73 266.01L402.44 266.86L403.15 267.61L403.86 268.3L404.57 268.96L405.28 269.57L405.99 270.14L406.7 270.69L407.41 271.21L408.12 271.7L408.83 272.16L409.54 272.58L410.25 273L410.96 273.4L411.67 273.79L412.38 274.19L413.09 274.6L413.8 275L414.51 275.41L415.22 275.83L460.69 305.01"/>
<path class="eb" d="M51.97 272V290M48.77 272H55.17M48.77 290H55.17M52.45 263V271.9M49.25 263H55.65M49.25 271.9H55.65M52.92 257.1V264.8M49.72 257.1H56.12M49.72 264.8H56.12M53.39 250.8V259M50.19 250.8H56.59M50.19 259H56.59M54.34 249.5V258M51.14 249.5H57.54M51.14 258H57.54M55.29 254.1V261.8M52.09 254.1H58.49M52.09 261.8H58.49M57.18 259.1V266.8M53.98 259.1H60.38M53.98 266.8H60.38M59.08 263.6V271.3M55.88 263.6H62.28M55.88 271.3H62.28M60.97 267.1V274.8M57.77 267.1H64.17M57.77 274.8H64.17M62.87 270V277.2M59.67 270H66.07M59.67 277.2H66.07M74.23 279.8V288.8M71.03 279.8H77.43M71.03 288.8H77.43M85.6 263.25V271.25M82.4 263.25H88.8M82.4 271.25H88.8M96.97 275V284.5M93.77 275H100.17M93.77 284.5H100.17M119.7 274.25V284.25M116.5 274.25H122.9M116.5 284.25H122.9M142.43 273V285.75M139.23 273H145.63M139.23 285.75H145.63M210.63 272.5V282.5M207.43 272.5H213.83M207.43 282.5H213.83M278.83 272.5V282M275.63 272.5H282.03M275.63 282H282.03M347.03 273.25V281.25M343.83 273.25H350.23M343.83 281.25H350.23M392.49 271.5V280M389.29 271.5H395.69M389.29 280H395.69M392.97 265.6V273.5M389.77 265.6H396.17M389.77 273.5H396.17M393.44 256.9V262.5M390.24 256.9H396.64M390.24 262.5H396.64M393.91 245.9V258M390.71 245.9H397.11M390.71 258H397.11M394.39 248V255M391.19 248H397.59M391.19 255H397.59M395.33 248V254M392.13 248H398.53M392.13 254H398.53M396.28 249.9V255.5M393.08 249.9H399.48M393.08 255.5H399.48M398.18 253.7V259.3M394.98 253.7H401.38M394.98 259.3H401.38M400.07 256.3V261.9M396.87 256.3H403.27M396.87 261.9H403.27M401.96 258.9V264.5M398.76 258.9H405.16M398.76 264.5H405.16M403.86 262V267.5M400.66 262H407.06M400.66 267.5H407.06M415.22 272.5V276.3M412.02 272.5H418.42M412.02 276.3H418.42M426.59 279.5V288M423.39 279.5H429.79M423.39 288H429.79M437.96 286.25V295M434.76 286.25H441.16M434.76 295H441.16M460.69 299V310.3M457.49 299H463.89M457.49 310.3H463.89"/>
<circle class="pt" cx="51.5" cy="301.4" r="3.2"/>
<circle class="pt" cx="51.97" cy="278.6" r="3.2"/>
<circle class="pt" cx="52.45" cy="267.4" r="3.2"/>
<circle class="pt" cx="52.92" cy="260.5" r="3.2"/>
<circle class="pt" cx="53.39" cy="255.5" r="3.2"/>
<circle class="pt" cx="54.34" cy="254.4" r="3.2"/>
<circle class="pt" cx="55.29" cy="257.5" r="3.2"/>
<circle class="pt" cx="57.18" cy="262.5" r="3.2"/>
<circle class="pt" cx="59.08" cy="267" r="3.2"/>
<circle class="pt" cx="60.97" cy="270.5" r="3.2"/>
<circle class="pt" cx="62.87" cy="273.3" r="3.2"/>
<circle class="pt" cx="74.23" cy="283.6" r="3.2"/>
<circle class="pt" cx="85.6" cy="267" r="3.2"/>
<circle class="pt" cx="96.97" cy="279.25" r="3.2"/>
<circle class="pt" cx="119.7" cy="279" r="3.2"/>
<circle class="pt" cx="142.43" cy="278.25" r="3.2"/>
<circle class="pt" cx="210.63" cy="277" r="3.2"/>
<circle class="pt" cx="278.83" cy="277" r="3.2"/>
<circle class="pt" cx="347.03" cy="277.5" r="3.2"/>
<circle class="pt" cx="392.49" cy="275" r="3.2"/>
<circle class="pt" cx="392.97" cy="269.5" r="3.2"/>
<circle class="pt" cx="393.44" cy="259.5" r="3.2"/>
<circle class="pt" cx="393.91" cy="253.5" r="3.2"/>
<circle class="pt" cx="394.39" cy="250.2" r="3.2"/>
<circle class="pt" cx="395.33" cy="250" r="3.2"/>
<circle class="pt" cx="396.28" cy="252.5" r="3.2"/>
<circle class="pt" cx="398.18" cy="256.3" r="3.2"/>
<circle class="pt" cx="400.07" cy="258.9" r="3.2"/>
<circle class="pt" cx="401.96" cy="261.5" r="3.2"/>
<circle class="pt" cx="403.86" cy="264.5" r="3.2"/>
<circle class="pt" cx="415.22" cy="274.25" r="3.2"/>
<circle class="pt" cx="426.59" cy="283.25" r="3.2"/>
<circle class="pt" cx="437.96" cy="290" r="3.2"/>
<circle class="pt" cx="460.69" cy="303.7" r="3.2"/>
</g>
<g id="chartC">
<text class="t" y="386.65"><tspan x="167" letter-spacing="0.03">(<tspan font-weight="bold">C</tspan>) </tspan><tspan x="186.2" letter-spacing="0.53">Enavogliflozin </tspan><tspan x="270.6" letter-spacing="-0.07">1 </tspan><tspan x="278.7" letter-spacing="0.77">mg/day</tspan></text>
<path class="ax" d="M51.6 409.25V513.57M43.05 504.97H461.79M43.05 410.42H51.6M43.05 441.94H51.6M43.05 473.45H51.6M74.32 504.97V510.67M97.05 504.97V513.57M119.77 504.97V510.67M142.49 504.97V513.57M165.22 504.97V510.67M187.94 504.97V513.57M210.66 504.97V510.67M233.39 504.97V513.57M256.11 504.97V510.67M278.83 504.97V513.57M301.56 504.97V510.67M324.28 504.97V513.57M347 504.97V510.67M369.72 504.97V513.57M392.45 504.97V510.67M415.17 504.97V513.57M437.89 504.97V510.67M460.62 504.97V513.57"/>
<text class="k" text-anchor="end" x="40.8" y="414.32">10</text>
<text class="k" text-anchor="end" x="40.8" y="445.84">1</text>
<text class="k" text-anchor="end" x="40.8" y="477.35">0.1</text>
<text class="k" text-anchor="end" x="40.8" y="508.87">0.01</text>
<text class="k" text-anchor="middle" x="51.6" y="524.97">0</text>
<text class="k" text-anchor="middle" x="97.05" y="524.97">48</text>
<text class="k" text-anchor="middle" x="142.49" y="524.97">96</text>
<text class="k" text-anchor="middle" x="187.94" y="524.97">144</text>
<text class="k" text-anchor="middle" x="233.39" y="524.97">192</text>
<text class="k" text-anchor="middle" x="278.83" y="524.97">240</text>
<text class="k" text-anchor="middle" x="324.28" y="524.97">288</text>
<text class="k" text-anchor="middle" x="369.72" y="524.97">336</text>
<text class="k" text-anchor="middle" x="415.17" y="524.97">384</text>
<text class="k" text-anchor="middle" x="460.62" y="524.97">432</text>
<text class="l" text-anchor="middle" transform="translate(256.21 544.27) scale(1 1.07)">Time (h)</text>
<text class="l" text-anchor="middle" transform="translate(15 458) rotate(-90) scale(1 1.07)">M1 (ng/mL)</text>
<path class="cv" d="M51.78 456.61L51.83 452.18L51.88 449.31L51.93 446.84L51.97 444.76L52.02 443.1L52.07 441.88L52.12 440.95L52.16 440.12L52.21 439.4L52.26 438.76L52.31 438.2L52.35 437.72L52.4 437.3L52.45 436.95L52.49 436.63L52.54 436.34L52.59 436.06L52.64 435.81L52.68 435.57L52.73 435.35L52.78 435.15L52.83 434.97L52.87 434.8L52.92 434.65L53.16 434.07L53.39 433.64L53.63 433.34L53.87 433.16L54.1 433.05L54.34 433.08L54.58 433.28L54.82 433.53L55.05 433.9L55.29 434.37L55.53 434.87L55.76 435.44L56 436.07L56.24 436.71L56.47 437.37L56.71 438.06L56.95 438.74L57.18 439.38L57.89 441.24L58.6 442.96L59.31 444.46L60.02 445.81L60.74 447.01L61.45 448.04L62.16 448.94L62.87 449.76L63.58 450.51L64.29 451.2L65 451.84L65.71 452.44L66.42 453L67.13 453.51L67.84 453.96L68.55 454.37L69.26 454.76L69.97 455.14L70.68 455.5L71.39 455.86L72.1 456.24L72.81 456.62L73.52 457.01L74.23 457.4L74.23 456.73L74.28 456.39L74.33 456.05L74.37 455.53L74.42 453.8L74.47 450.79L74.52 447.6L74.56 445.14L74.61 443.37L74.66 441.73L74.71 440.27L74.75 439.07L74.8 438.15L74.85 437.44L74.9 436.81L74.94 436.24L74.99 435.74L75.04 435.3L75.09 434.91L75.13 434.57L75.18 434.29L75.23 434.03L75.27 433.79L75.32 433.57L75.37 433.36L75.42 433.17L75.46 432.99L75.51 432.83L75.56 432.68L75.61 432.54L75.65 432.42L75.89 431.94L76.13 431.59L76.36 431.36L76.6 431.22L76.84 431.14L77.07 431.19L77.31 431.38L77.55 431.62L77.78 431.97L78.02 432.39L78.26 432.85L78.5 433.36L78.73 433.92L78.97 434.49L79.21 435.07L79.44 435.67L79.68 436.26L79.92 436.83L80.63 438.44L81.34 439.91L82.05 441.2L82.76 442.35L83.47 443.38L84.18 444.28L84.89 445.07L85.6 445.8L86.31 446.48L87.02 447.11L87.73 447.7L88.44 448.26L89.15 448.79L89.86 449.29L90.57 449.74L91.28 450.16L91.99 450.57L92.7 450.97L93.41 451.35L94.12 451.74L94.83 452.14L95.54 452.54L96.26 452.95L96.97 453.35L96.97 452.85L97.01 452.6L97.06 452.35L97.11 451.96L97.16 450.62L97.2 448.18L97.25 445.5L97.3 443.37L97.34 441.8L97.39 440.33L97.44 439.02L97.49 437.91L97.53 437.07L97.58 436.42L97.63 435.83L97.68 435.31L97.72 434.84L97.77 434.42L97.82 434.06L97.87 433.75L97.91 433.48L97.96 433.24L98.01 433.02L98.05 432.81L98.1 432.61L98.15 432.43L98.2 432.26L98.24 432.11L98.29 431.97L98.34 431.84L98.39 431.72L98.62 431.28L98.86 430.95L99.1 430.74L99.33 430.62L99.57 430.55L99.81 430.6L100.04 430.79L100.28 431.02L100.52 431.36L100.75 431.77L100.99 432.21L101.23 432.71L101.46 433.25L101.7 433.8L101.94 434.36L102.18 434.94L102.41 435.51L102.65 436.05L103.36 437.59L104.07 439.01L104.78 440.23L105.49 441.34L106.2 442.33L106.91 443.19L107.62 443.96L108.33 444.66L109.04 445.33L109.75 445.94L110.46 446.52L111.17 447.07L111.88 447.6L112.59 448.09L113.3 448.55L114.02 448.97L114.73 449.38L115.44 449.78L116.15 450.17L116.86 450.57L117.57 450.97L118.28 451.38L118.99 451.79L119.7 452.2L119.7 451.74L119.75 451.51L119.79 451.28L119.84 450.92L119.89 449.67L119.94 447.39L119.98 444.85L120.03 442.81L120.08 441.3L120.12 439.88L120.17 438.61L120.22 437.54L120.27 436.72L120.31 436.08L120.36 435.51L120.41 435L120.46 434.54L120.5 434.14L120.55 433.78L120.6 433.48L120.65 433.21L120.69 432.98L120.74 432.76L120.79 432.56L120.84 432.36L120.88 432.19L120.93 432.02L120.98 431.87L121.02 431.73L121.07 431.61L121.12 431.49L121.36 431.06L121.59 430.74L121.83 430.53L122.07 430.41L122.3 430.35L122.54 430.4L122.78 430.59L123.01 430.82L123.25 431.16L123.49 431.57L123.72 432L123.96 432.49L124.2 433.03L124.43 433.57L124.67 434.12L124.91 434.69L125.14 435.26L125.38 435.79L126.09 437.31L126.8 438.71L127.51 439.92L128.22 441.01L128.93 441.98L129.64 442.84L130.35 443.6L131.06 444.29L131.78 444.95L132.49 445.56L133.2 446.14L133.91 446.69L134.62 447.21L135.33 447.7L136.04 448.16L136.75 448.58L137.46 449L138.17 449.4L138.88 449.79L139.59 450.19L140.3 450.59L141.01 451L141.72 451.41L142.43 451.82L142.43 451.37L142.48 451.15L142.53 450.92L142.57 450.58L142.62 449.36L142.67 447.13L142.72 444.63L142.76 442.62L142.81 441.13L142.86 439.73L142.9 438.47L142.95 437.41L143 436.6L143.05 435.97L143.09 435.4L143.14 434.89L143.19 434.44L143.24 434.04L143.28 433.69L143.33 433.38L143.38 433.12L143.43 432.89L143.47 432.67L143.52 432.47L143.57 432.28L143.62 432.1L143.66 431.94L143.71 431.79L143.76 431.65L143.8 431.53L143.85 431.42L144.09 430.99L144.33 430.67L144.56 430.46L144.8 430.34L145.04 430.28L145.27 430.33L145.51 430.52L145.75 430.75L145.98 431.09L146.22 431.5L146.46 431.93L146.69 432.42L146.93 432.95L147.17 433.49L147.4 434.04L147.64 434.61L147.88 435.17L148.11 435.7L148.82 437.22L149.54 438.6L150.25 439.81L150.96 440.9L151.67 441.87L152.38 442.72L153.09 443.47L153.8 444.17L154.51 444.82L155.22 445.43L155.93 446.01L156.64 446.56L157.35 447.08L158.06 447.57L158.77 448.03L159.48 448.45L160.19 448.87L160.9 449.27L161.61 449.66L162.32 450.06L163.03 450.46L163.74 450.87L164.45 451.28L165.16 451.69L165.16 451.25L165.21 451.03L165.26 450.81L165.31 450.46L165.35 449.25L165.4 447.04L165.45 444.56L165.5 442.56L165.54 441.08L165.59 439.68L165.64 438.43L165.68 437.37L165.73 436.56L165.78 435.93L165.83 435.37L165.87 434.86L165.92 434.4L165.97 434L166.02 433.65L166.06 433.35L166.11 433.09L166.16 432.86L166.21 432.64L166.25 432.44L166.3 432.25L166.35 432.08L166.4 431.91L166.44 431.76L166.49 431.63L166.54 431.5L166.58 431.39L166.82 430.96L167.06 430.64L167.3 430.44L167.53 430.32L167.77 430.25L168.01 430.31L168.24 430.5L168.48 430.73L168.72 431.06L168.95 431.47L169.19 431.91L169.43 432.39L169.66 432.93L169.9 433.47L170.14 434.02L170.37 434.58L170.61 435.14L170.85 435.67L171.56 437.19L172.27 438.57L172.98 439.77L173.69 440.86L174.4 441.83L175.11 442.68L175.82 443.43L176.53 444.13L177.24 444.78L177.95 445.39L178.66 445.96L179.37 446.51L180.08 447.04L180.79 447.53L181.5 447.98L182.21 448.41L182.92 448.82L183.63 449.22L184.34 449.62L185.06 450.01L185.77 450.42L186.48 450.83L187.19 451.24L187.9 451.65L187.9 451.21L187.94 450.99L187.99 450.77L188.04 450.42L188.09 449.22L188.13 447.01L188.18 444.53L188.23 442.54L188.28 441.06L188.32 439.66L188.37 438.41L188.42 437.35L188.47 436.55L188.51 435.92L188.56 435.35L188.61 434.84L188.65 434.39L188.7 433.99L188.75 433.64L188.8 433.34L188.84 433.08L188.89 432.85L188.94 432.63L188.99 432.43L189.03 432.24L189.08 432.07L189.13 431.9L189.18 431.75L189.22 431.62L189.27 431.49L189.32 431.38L189.55 430.95L189.79 430.64L190.03 430.43L190.26 430.31L190.5 430.25L190.74 430.3L190.98 430.49L191.21 430.72L191.45 431.05L191.69 431.46L191.92 431.9L192.16 432.39L192.4 432.92L192.63 433.46L192.87 434.01L193.11 434.57L193.34 435.13L193.58 435.66L194.29 437.17L195 438.56L195.71 439.76L196.42 440.85L197.13 441.81L197.84 442.66L198.55 443.42L199.26 444.11L199.97 444.77L200.68 445.37L201.39 445.95L202.1 446.5L202.82 447.02L203.53 447.51L204.24 447.97L204.95 448.39L205.66 448.81L206.37 449.21L207.08 449.6L207.79 450L208.5 450.4L209.21 450.81L209.92 451.22L210.63 451.64L210.63 451.2L210.68 450.97L210.72 450.75L210.77 450.41L210.82 449.21L210.87 447L210.91 444.52L210.96 442.53L211.01 441.05L211.06 439.66L211.1 438.4L211.15 437.35L211.2 436.54L211.25 435.91L211.29 435.35L211.34 434.84L211.39 434.39L211.43 433.99L211.48 433.64L211.53 433.34L211.58 433.08L211.62 432.85L211.67 432.63L211.72 432.43L211.77 432.24L211.81 432.06L211.86 431.9L211.91 431.75L211.96 431.61L212 431.49L212.05 431.38L212.29 430.95L212.52 430.63L212.76 430.43L213 430.31L213.23 430.24L213.47 430.3L213.71 430.49L213.94 430.72L214.18 431.05L214.42 431.46L214.66 431.89L214.89 432.38L215.13 432.92L215.37 433.45L215.6 434L215.84 434.57L216.08 435.13L216.31 435.66L217.02 437.17L217.73 438.55L218.44 439.76L219.15 440.84L219.86 441.81L220.58 442.66L221.29 443.41L222 444.11L222.71 444.76L223.42 445.37L224.13 445.94L224.84 446.49L225.55 447.01L226.26 447.5L226.97 447.96L227.68 448.39L228.39 448.8L229.1 449.2L229.81 449.6L230.52 449.99L231.23 450.4L231.94 450.81L232.65 451.22L233.36 451.63L233.36 451.19L233.41 450.97L233.46 450.75L233.5 450.4L233.55 449.2L233.6 446.99L233.65 444.52L233.69 442.53L233.74 441.05L233.79 439.65L233.84 438.4L233.88 437.35L233.93 436.54L233.98 435.91L234.03 435.35L234.07 434.84L234.12 434.39L234.17 433.99L234.21 433.64L234.26 433.33L234.31 433.08L234.36 432.84L234.4 432.63L234.45 432.43L234.5 432.24L234.55 432.06L234.59 431.9L234.64 431.75L234.69 431.61L234.74 431.49L234.78 431.38L235.02 430.95L235.26 430.63L235.49 430.42L235.73 430.31L235.97 430.24L236.2 430.3L236.44 430.49L236.68 430.72L236.91 431.05L237.15 431.46L237.39 431.89L237.62 432.38L237.86 432.91L238.1 433.45L238.34 434L238.57 434.57L238.81 435.13L239.05 435.66L239.76 437.17L240.47 438.55L241.18 439.75L241.89 440.84L242.6 441.81L243.31 442.66L244.02 443.41L244.73 444.11L245.44 444.76L246.15 445.37L246.86 445.94L247.57 446.49L248.28 447.01L248.99 447.5L249.7 447.96L250.41 448.38L251.12 448.8L251.83 449.2L252.54 449.6L253.25 449.99L253.96 450.4L254.67 450.81L255.38 451.22L256.1 451.63L256.1 451.19L256.14 450.97L256.19 450.75L256.24 450.4L256.28 449.2L256.33 446.99L256.38 444.52L256.43 442.53L256.47 441.05L256.52 439.65L256.57 438.4L256.62 437.34L256.66 436.54L256.71 435.91L256.76 435.35L256.81 434.84L256.85 434.39L256.9 433.99L256.95 433.64L257 433.33L257.04 433.08L257.09 432.84L257.14 432.63L257.18 432.42L257.23 432.24L257.28 432.06L257.33 431.9L257.37 431.75L257.42 431.61L257.47 431.49L257.52 431.38L257.75 430.95L257.99 430.63L258.23 430.42L258.46 430.31L258.7 430.24L258.94 430.3L259.17 430.49L259.41 430.72L259.65 431.05L259.88 431.46L260.12 431.89L260.36 432.38L260.59 432.91L260.83 433.45L261.07 434L261.3 434.57L261.54 435.13L261.78 435.66L262.49 437.17L263.2 438.55L263.91 439.75L264.62 440.84L265.33 441.81L266.04 442.66L266.75 443.41L267.46 444.11L268.17 444.76L268.88 445.37L269.59 445.94L270.3 446.49L271.01 447.01L271.72 447.5L272.43 447.96L273.14 448.38L273.86 448.8L274.57 449.2L275.28 449.59L275.99 449.99L276.7 450.4L277.41 450.8L278.12 451.22L278.83 451.63L278.83 451.19L278.88 450.97L278.92 450.74L278.97 450.4L279.02 449.2L279.06 446.99L279.11 444.52L279.16 442.53L279.21 441.05L279.25 439.65L279.3 438.4L279.35 437.34L279.4 436.54L279.44 435.91L279.49 435.35L279.54 434.84L279.59 434.39L279.63 433.99L279.68 433.64L279.73 433.33L279.78 433.08L279.82 432.84L279.87 432.63L279.92 432.42L279.96 432.24L280.01 432.06L280.06 431.9L280.11 431.75L280.15 431.61L280.2 431.49L280.25 431.38L280.49 430.95L280.72 430.63L280.96 430.42L281.2 430.31L281.43 430.24L281.67 430.3L281.91 430.49L282.14 430.72L282.38 431.05L282.62 431.46L282.85 431.89L283.09 432.38L283.33 432.91L283.56 433.45L283.8 434L284.04 434.57L284.27 435.13L284.51 435.66L285.22 437.17L285.93 438.55L286.64 439.75L287.35 440.84L288.06 441.81L288.77 442.66L289.48 443.41L290.19 444.1L290.9 444.76L291.62 445.37L292.33 445.94L293.04 446.49L293.75 447.01L294.46 447.5L295.17 447.96L295.88 448.38L296.59 448.8L297.3 449.2L298.01 449.59L298.72 449.99L299.43 450.4L300.14 450.8L300.85 451.22L301.56 451.63L301.56 451.19L301.61 450.97L301.66 450.74L301.7 450.4L301.75 449.2L301.8 446.99L301.84 444.52L301.89 442.53L301.94 441.05L301.99 439.65L302.03 438.4L302.08 437.34L302.13 436.54L302.18 435.91L302.22 435.35L302.27 434.84L302.32 434.39L302.37 433.99L302.41 433.64L302.46 433.33L302.51 433.08L302.56 432.84L302.6 432.63L302.65 432.42L302.7 432.24L302.74 432.06L302.79 431.9L302.84 431.75L302.89 431.61L302.93 431.49L302.98 431.38L303.22 430.95L303.46 430.63L303.69 430.42L303.93 430.31L304.17 430.24L304.4 430.3L304.64 430.49L304.88 430.72L305.11 431.05L305.35 431.46L305.59 431.89L305.82 432.38L306.06 432.91L306.3 433.45L306.53 434L306.77 434.57L307.01 435.13L307.24 435.66L307.95 437.17L308.66 438.55L309.38 439.75L310.09 440.84L310.8 441.81L311.51 442.66L312.22 443.41L312.93 444.1L313.64 444.76L314.35 445.37L315.06 445.94L315.77 446.49L316.48 447.01L317.19 447.5L317.9 447.96L318.61 448.38L319.32 448.8L320.03 449.2L320.74 449.59L321.45 449.99L322.16 450.4L322.87 450.8L323.58 451.21L324.29 451.63L324.29 451.19L324.34 450.97L324.39 450.74L324.44 450.4L324.48 449.2L324.53 446.99L324.58 444.52L324.63 442.53L324.67 441.05L324.72 439.65L324.77 438.4L324.81 437.34L324.86 436.54L324.91 435.91L324.96 435.35L325 434.84L325.05 434.39L325.1 433.99L325.15 433.64L325.19 433.33L325.24 433.08L325.29 432.84L325.34 432.63L325.38 432.42L325.43 432.24L325.48 432.06L325.52 431.9L325.57 431.75L325.62 431.61L325.67 431.49L325.71 431.38L325.95 430.95L326.19 430.63L326.42 430.42L326.66 430.31L326.9 430.24L327.14 430.3L327.37 430.49L327.61 430.72L327.85 431.05L328.08 431.46L328.32 431.89L328.56 432.38L328.79 432.91L329.03 433.45L329.27 434L329.5 434.57L329.74 435.13L329.98 435.66L330.69 437.17L331.4 438.55L332.11 439.75L332.82 440.84L333.53 441.81L334.24 442.66L334.95 443.41L335.66 444.1L336.37 444.76L337.08 445.37L337.79 445.94L338.5 446.49L339.21 447.01L339.92 447.5L340.63 447.96L341.34 448.38L342.05 448.8L342.76 449.2L343.47 449.59L344.18 449.99L344.9 450.4L345.61 450.8L346.32 451.21L347.03 451.63L347.03 451.19L347.07 450.97L347.12 450.74L347.17 450.4L347.22 449.2L347.26 446.99L347.31 444.52L347.36 442.53L347.41 441.05L347.45 439.65L347.5 438.4L347.55 437.34L347.59 436.54L347.64 435.91L347.69 435.35L347.74 434.84L347.78 434.39L347.83 433.99L347.88 433.64L347.93 433.33L347.97 433.08L348.02 432.84L348.07 432.63L348.12 432.42L348.16 432.24L348.21 432.06L348.26 431.9L348.31 431.75L348.35 431.61L348.4 431.49L348.45 431.38L348.68 430.95L348.92 430.63L349.16 430.42L349.39 430.31L349.63 430.24L349.87 430.3L350.1 430.49L350.34 430.72L350.58 431.05L350.82 431.46L351.05 431.89L351.29 432.38L351.53 432.91L351.76 433.45L352 434L352.24 434.57L352.47 435.13L352.71 435.66L353.42 437.17L354.13 438.55L354.84 439.75L355.55 440.84L356.26 441.81L356.97 442.66L357.68 443.41L358.39 444.1L359.1 444.76L359.81 445.37L360.52 445.94L361.23 446.49L361.94 447.01L362.66 447.5L363.37 447.96L364.08 448.38L364.79 448.8L365.5 449.2L366.21 449.59L366.92 449.99L367.63 450.4L368.34 450.8L369.05 451.21L369.76 451.63L369.76 451.19L369.81 450.97L369.85 450.74L369.9 450.4L369.95 449.2L370 446.99L370.04 444.52L370.09 442.53L370.14 441.05L370.19 439.65L370.23 438.4L370.28 437.34L370.33 436.54L370.37 435.91L370.42 435.35L370.47 434.84L370.52 434.39L370.56 433.99L370.61 433.64L370.66 433.33L370.71 433.08L370.75 432.84L370.8 432.63L370.85 432.42L370.9 432.24L370.94 432.06L370.99 431.9L371.04 431.75L371.09 431.61L371.13 431.49L371.18 431.38L371.42 430.95L371.65 430.63L371.89 430.42L372.13 430.31L372.36 430.24L372.6 430.3L372.84 430.49L373.07 430.72L373.31 431.05L373.55 431.46L373.78 431.89L374.02 432.38L374.26 432.91L374.5 433.45L374.73 434L374.97 434.57L375.21 435.13L375.44 435.66L376.15 437.17L376.86 438.55L377.57 439.75L378.28 440.84L378.99 441.81L379.7 442.66L380.42 443.41L381.13 444.1L381.84 444.76L382.55 445.37L383.26 445.94L383.97 446.49L384.68 447.01L385.39 447.5L386.1 447.96L386.81 448.38L387.52 448.8L388.23 449.2L388.94 449.59L389.65 449.99L390.36 450.4L391.07 450.8L391.78 451.21L392.49 451.63L392.49 451.19L392.54 450.97L392.59 450.74L392.63 450.4L392.68 449.2L392.73 446.99L392.78 444.52L392.82 442.53L392.87 441.05L392.92 439.65L392.97 438.4L393.01 437.34L393.06 436.54L393.11 435.91L393.16 435.35L393.2 434.84L393.25 434.39L393.3 433.99L393.34 433.64L393.39 433.33L393.44 433.08L393.49 432.84L393.53 432.63L393.58 432.42L393.63 432.24L393.68 432.06L393.72 431.9L393.77 431.75L393.82 431.61L393.87 431.49L393.91 431.38L394.15 430.95L394.39 430.63L394.62 430.42L394.86 430.31L395.1 430.24L395.33 430.3L395.57 430.49L395.81 430.72L396.04 431.05L396.28 431.46L396.52 431.89L396.75 432.38L396.99 432.91L397.23 433.45L397.46 434L397.7 434.57L397.94 435.13L398.18 435.66L398.89 437.17L399.6 438.55L400.31 439.75L401.02 440.84L401.73 441.81L402.44 442.66L403.15 443.41L403.86 444.1L404.57 444.76L405.28 445.37L405.99 445.94L406.7 446.49L407.41 447.01L408.12 447.5L408.83 447.96L409.54 448.38L410.25 448.8L410.96 449.2L411.67 449.59L412.38 449.99L413.09 450.4L413.8 450.8L414.51 451.21L415.22 451.63L460.69 480.81"/>
<path class="eb" d="M51.5 480.3V487.6M48.3 480.3H54.7M51.97 447.5V462M48.77 447.5H55.17M48.77 462H55.17M52.45 440.1V448.5M49.25 440.1H55.65M49.25 448.5H55.65M52.92 430.8V439.2M49.72 430.8H56.12M49.72 439.2H56.12M53.39 425.9V434.3M50.19 425.9H56.59M50.19 434.3H56.59M54.34 425.3V433M51.14 425.3H57.54M51.14 433H57.54M55.29 428.7V437.1M52.09 428.7H58.49M52.09 437.1H58.49M57.18 432.9V441.3M53.98 432.9H60.38M53.98 441.3H60.38M59.08 436.2V444.6M55.88 436.2H62.28M55.88 444.6H62.28M60.97 439.6V448M57.77 439.6H64.17M57.77 448H64.17M62.87 443V451.6M59.67 443H66.07M59.67 451.6H66.07M74.23 452.6V464.5M71.03 452.6H77.43M71.03 464.5H77.43M85.6 438.75V449.25M82.4 438.75H88.8M82.4 449.25H88.8M96.97 450.5V463M93.77 450.5H100.17M93.77 463H100.17M119.7 449.5V462M116.5 449.5H122.9M116.5 462H122.9M142.43 447.5V461.25M139.23 447.5H145.63M139.23 461.25H145.63M210.63 447.5V460.75M207.43 447.5H213.83M207.43 460.75H213.83M278.83 448.25V458.75M275.63 448.25H282.03M275.63 458.75H282.03M347.03 447.5V457M343.83 447.5H350.23M343.83 457H350.23M392.49 446.5V456.75M389.29 446.5H395.69M389.29 456.75H395.69M392.97 436.3V445.8M389.77 436.3H396.17M389.77 445.8H396.17M393.44 428.4V437.9M390.24 428.4H396.64M390.24 437.9H396.64M393.91 425V434.5M390.71 425H397.11M390.71 434.5H397.11M394.39 423V432.5M391.19 423H397.59M391.19 432.5H397.59M395.33 420.8V433M392.13 420.8H398.53M392.13 433H398.53M396.28 423.8V433.3M393.08 423.8H399.48M393.08 433.3H399.48M398.18 427V436.5M394.98 427H401.38M394.98 436.5H401.38M400.07 430V439.5M396.87 430H403.27M396.87 439.5H403.27M401.96 432.8V442.3M398.76 432.8H405.16M398.76 442.3H405.16M403.86 434.5V443M400.66 434.5H407.06M400.66 443H407.06M415.22 446.25V455M412.02 446.25H418.42M412.02 455H418.42M426.59 454V466.25M423.39 454H429.79M423.39 466.25H429.79M437.96 462V475M434.76 462H441.16M434.76 475H441.16M460.69 475.5V497.5M457.49 475.5H463.89M457.49 497.5H463.89"/>
<circle class="pt" cx="51.5" cy="487.6" r="3.2"/>
<circle class="pt" cx="51.97" cy="456" r="3.2"/>
<circle class="pt" cx="52.45" cy="443.7" r="3.2"/>
<circle class="pt" cx="52.92" cy="434.4" r="3.2"/>
<circle class="pt" cx="53.39" cy="429.5" r="3.2"/>
<circle class="pt" cx="54.34" cy="429" r="3.2"/>
<circle class="pt" cx="55.29" cy="432.3" r="3.2"/>
<circle class="pt" cx="57.18" cy="436.5" r="3.2"/>
<circle class="pt" cx="59.08" cy="439.8" r="3.2"/>
<circle class="pt" cx="60.97" cy="443.2" r="3.2"/>
<circle class="pt" cx="62.87" cy="446.6" r="3.2"/>
<circle class="pt" cx="74.23" cy="457.5" r="3.2"/>
<circle class="pt" cx="85.6" cy="443.25" r="3.2"/>
<circle class="pt" cx="96.97" cy="455.5" r="3.2"/>
<circle class="pt" cx="119.7" cy="453.75" r="3.2"/>
<circle class="pt" cx="142.43" cy="452.5" r="3.2"/>
<circle class="pt" cx="210.63" cy="452.5" r="3.2"/>
<circle class="pt" cx="278.83" cy="453.25" r="3.2"/>
<circle class="pt" cx="347.03" cy="452" r="3.2"/>
<circle class="pt" cx="392.49" cy="450.75" r="3.2"/>
<circle class="pt" cx="392.97" cy="440.3" r="3.2"/>
<circle class="pt" cx="393.44" cy="432.4" r="3.2"/>
<circle class="pt" cx="393.91" cy="429" r="3.2"/>
<circle class="pt" cx="394.39" cy="427" r="3.2"/>
<circle class="pt" cx="395.33" cy="426.5" r="3.2"/>
<circle class="pt" cx="396.28" cy="427.8" r="3.2"/>
<circle class="pt" cx="398.18" cy="431" r="3.2"/>
<circle class="pt" cx="400.07" cy="434" r="3.2"/>
<circle class="pt" cx="401.96" cy="436.8" r="3.2"/>
<circle class="pt" cx="403.86" cy="438.4" r="3.2"/>
<circle class="pt" cx="415.22" cy="450.5" r="3.2"/>
<circle class="pt" cx="426.59" cy="458.75" r="3.2"/>
<circle class="pt" cx="437.96" cy="466.75" r="3.2"/>
<circle class="pt" cx="460.69" cy="482.5" r="3.2"/>
</g>
</svg></body></html>
